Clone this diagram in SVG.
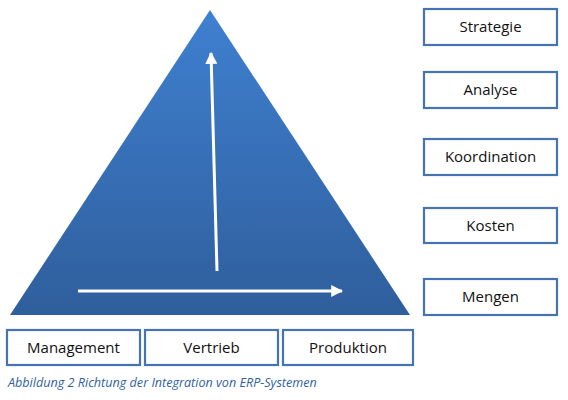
<svg xmlns="http://www.w3.org/2000/svg" width="568" height="400" viewBox="0 0 568 400">
<style>
.box{fill:#fff;stroke:#4673b4;stroke-width:2.2}
.lbl{font-family:"Open Sans","Liberation Sans",sans-serif;font-size:15px;fill:#111;text-anchor:middle}
.cap{font-family:"Open Sans","Liberation Sans",sans-serif;font-size:12.6px;font-style:italic;fill:#2f5f9f}
.arr{stroke:#fff;stroke-width:3;fill:none}
</style>
<defs>
<linearGradient id="g" x1="0" y1="0" x2="0" y2="1">
<stop offset="0" stop-color="#3f80d0"/>
<stop offset="1" stop-color="#2f5e9c"/>
</linearGradient>
<marker id="ah" viewBox="0 0 10 10" refX="9" refY="5" markerWidth="4" markerHeight="4" orient="auto" markerUnits="strokeWidth">
<path d="M0,0 L10,5 L0,10 z" fill="#fff"/>
</marker>
</defs>
<rect width="568" height="400" fill="#fff"/>
<g id="pyramid">
<polygon points="210,10 410,315 10,315" fill="url(#g)"/>
</g>
<g id="connectors">
<line class="arr" x1="217" y1="271" x2="211" y2="53" marker-end="url(#ah)"/>
<line class="arr" x1="78" y1="291" x2="342" y2="291" marker-end="url(#ah)"/>
</g>
<g id="strategie"><rect class="box" x="424" y="9" width="133" height="36"/><text class="lbl" x="490.5" y="32">Strategie</text></g>
<g id="analyse"><rect class="box" x="424" y="72" width="133" height="36"/><text class="lbl" x="490.5" y="95">Analyse</text></g>
<g id="koordination"><rect class="box" x="424" y="139" width="133" height="36"/><text class="lbl" x="490.5" y="162">Koordination</text></g>
<g id="kosten"><rect class="box" x="424" y="208" width="133" height="35"/><text class="lbl" x="490.5" y="231">Kosten</text></g>
<g id="mengen"><rect class="box" x="424" y="279" width="133" height="36"/><text class="lbl" x="490.5" y="302">Mengen</text></g>
<g id="management"><rect class="box" x="7" y="330" width="133" height="35"/><text class="lbl" x="73.5" y="353">Management</text></g>
<g id="vertrieb"><rect class="box" x="145" y="330" width="133" height="35"/><text class="lbl" x="211.5" y="353">Vertrieb</text></g>
<g id="produktion"><rect class="box" x="283" y="330" width="130" height="35"/><text class="lbl" x="348" y="353">Produktion</text></g>
<text class="cap" x="8" y="387">Abbildung 2 Richtung der Integration von ERP-Systemen</text>
</svg>
